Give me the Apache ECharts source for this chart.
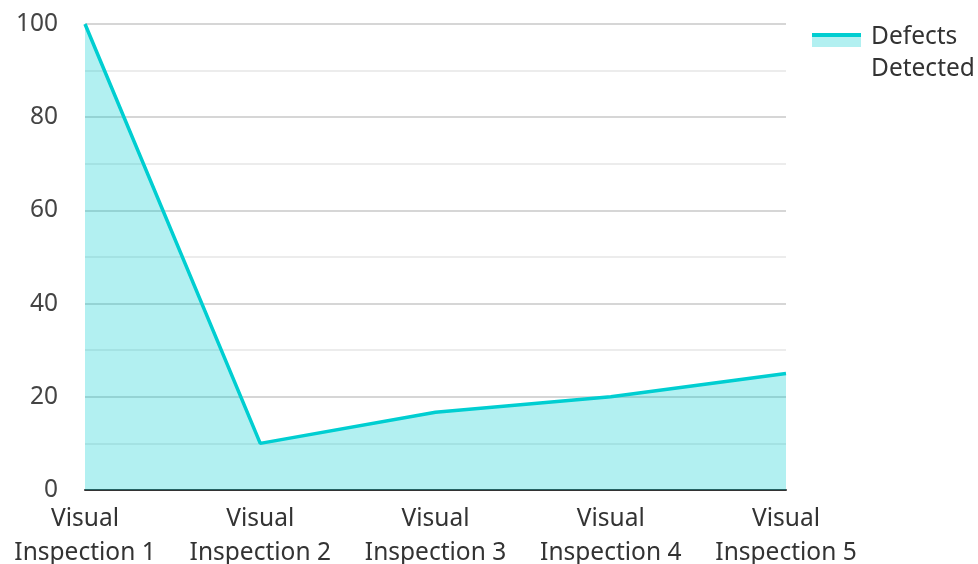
<!DOCTYPE html>
<html>
<head>
<meta charset="utf-8">
<script src="https://cdn.jsdelivr.net/npm/echarts@6/dist/echarts.min.js"></script>
<style>html,body{margin:0;padding:0;background:#fff}#c{width:978px;height:564px}</style>
</head>
<body>
<div id="c"></div>
<script>
const categories = ["Visual\nInspection 1", "Visual\nInspection 2", "Visual\nInspection 3", "Visual\nInspection 4", "Visual\nInspection 5"];
const seriesName = "Defects Detected";
const defects = [100, 10, 16.7, 20, 25];
const yTicks = { min: 0, max: 100, interval: 20 };

const lineColor = '#00CED1';
const fillColor = 'rgba(0,206,209,0.3)';
const font = 'Noto Sans';

const chart = echarts.init(document.getElementById('c'), null, { renderer: 'canvas' });
chart.setOption({
  animation: false,
  grid: { left: 85, right: 192, top: 24, bottom: 74, containLabel: false, outerBoundsMode: 'none' },
  legend: {
    show: true,
    left: 812, top: 16,
    orient: 'vertical',
    itemWidth: 49, itemHeight: 14,
    icon: 'rect',
    itemStyle: { opacity: 0 },
    itemGap: 10,
    formatter: () => 'Defects\nDetected',
    textStyle: { fontFamily: font, fontSize: 24.5, color: '#333', lineHeight: 32, padding: [0,0,0,0] },
    data: [seriesName]
  },
  graphic: [
    { type: 'rect', left: 812, top: 37, shape: { width: 49, height: 10 }, style: { fill: fillColor }, silent: true },
    { type: 'rect', left: 812, top: 33, shape: { width: 49, height: 4 }, style: { fill: lineColor }, silent: true }
  ],
  xAxis: {
    type: 'category',
    data: categories,
    boundaryGap: false,
    axisLine: { show: true, lineStyle: { color: '#333', width: 2 } },
    axisTick: { show: false },
    axisLabel: { fontFamily: font, fontSize: 24.5, color: '#333', lineHeight: 34, margin: 12, interval: 0 },
    splitLine: { show: false }
  },
  yAxis: {
    type: 'value',
    min: yTicks.min, max: yTicks.max, interval: yTicks.interval,
    axisLine: { show: false },
    axisTick: { show: false },
    axisLabel: { fontFamily: font, fontSize: 24.5, color: '#444', margin: 27 },
    splitLine: { show: true, lineStyle: { color: '#c8c8c8', width: 1.5 } },
    minorTick: { show: false, splitNumber: 2 },
    minorSplitLine: { show: true, lineStyle: { color: '#e6e6e6', width: 1.5 } }
  },
  series: [{
    name: seriesName,
    type: 'line',
    data: defects,
    symbol: 'none',
    lineStyle: { color: lineColor, width: 3.5 },
    itemStyle: { color: lineColor },
    areaStyle: { color: fillColor, opacity: 1, origin: 'start' },
    z: 3
  }]
});
</script>
</body>
</html>
